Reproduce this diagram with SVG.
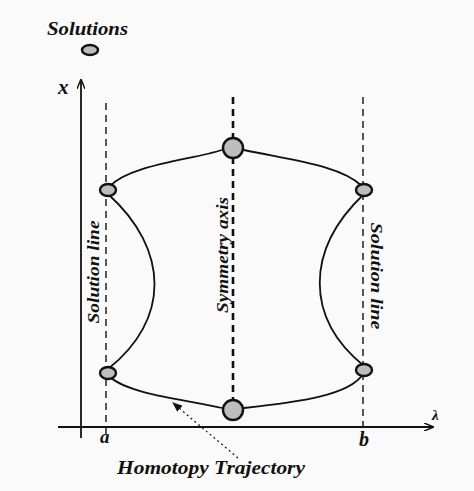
<svg xmlns="http://www.w3.org/2000/svg" width="474" height="491" viewBox="0 0 474 491">
<style>
.lbl{font-family:"Liberation Serif",serif;font-style:italic;font-weight:bold;fill:#111}
.dash{stroke:#111;stroke-width:1.4;stroke-dasharray:7 5;fill:none}
.curve{stroke:#111;stroke-width:1.8;fill:none}
.node{fill:#bdbdbd;stroke:#111;stroke-width:2.4}
.axis{stroke:#111;stroke-width:1.8;fill:none}
</style>
<defs>
<marker id="arr" markerWidth="10" markerHeight="8" refX="9" refY="4" orient="auto" markerUnits="userSpaceOnUse">
<path d="M0,0 L10,4 L0,8" fill="none" stroke="#111" stroke-width="1.4"/>
</marker>
<marker id="dot" markerWidth="10" markerHeight="8" refX="9" refY="4" orient="auto" markerUnits="userSpaceOnUse">
<path d="M0,0 L10,4 L0,8 Z" fill="#111"/>
</marker>
</defs>
<rect width="474" height="491" fill="#fafafa"/>
<g id="legend">
<text class="lbl" x="47" y="35" font-size="19" textLength="81" lengthAdjust="spacingAndGlyphs">Solutions</text>
<ellipse class="node" cx="90" cy="50" rx="8" ry="5" fill="#555"/>
</g>
<g id="axes">
<line class="axis" x1="81" y1="438" x2="81" y2="80" marker-end="url(#arr)"/>
<line class="axis" x1="58" y1="427" x2="433" y2="427" marker-end="url(#arr)"/>
<text class="lbl" x="58" y="94" font-size="21">x</text>
<text class="lbl" x="432" y="420" font-size="15" font-weight="normal">λ</text>
<text class="lbl" x="100" y="443" font-size="19">a</text>
<text class="lbl" x="359" y="446" font-size="20" font-weight="normal">b</text>
</g>
<g id="guides">
<line class="dash" x1="106" y1="103" x2="106" y2="438"/>
<line class="dash" x1="233" y1="97" x2="233" y2="420" style="stroke-width:2.6"/>
<line class="dash" x1="363" y1="97" x2="363" y2="427"/>
<text class="lbl" font-size="16" transform="translate(99,272) rotate(-90)" text-anchor="middle" textLength="103" lengthAdjust="spacingAndGlyphs">Solution line</text>
<text class="lbl" font-size="16" transform="translate(228,255) rotate(-90)" text-anchor="middle" textLength="116" lengthAdjust="spacingAndGlyphs">Symmetry axis</text>
<text class="lbl" font-size="16" transform="translate(371,276) rotate(90)" text-anchor="middle" textLength="107" lengthAdjust="spacingAndGlyphs">Solution line</text>
</g>
<g id="connectors">
<path class="curve" d="M110,186 C130,165 190,160 222,150"/>
<path class="curve" d="M244,150 C290,160 340,165 362,186"/>
<path class="curve" d="M108,194 C170,250 170,320 108,369"/>
<path class="curve" d="M364,194 C305,250 305,318 364,366"/>
<path class="curve" d="M110,377 C130,395 190,400 222,408"/>
<path class="curve" d="M244,408 C300,402 350,395 363,374"/>
<line x1="238" y1="458" x2="173" y2="403" stroke="#111" stroke-width="1.2" stroke-dasharray="2 3" marker-end="url(#dot)"/>
</g>
<g id="n-top-left"><ellipse class="node" cx="108" cy="190" rx="8" ry="6"/></g>
<g id="n-top-center"><circle class="node" cx="233" cy="148" r="10"/></g>
<g id="n-top-right"><ellipse class="node" cx="364" cy="190" rx="8" ry="6"/></g>
<g id="n-bot-left"><ellipse class="node" cx="108" cy="373" rx="8" ry="6"/></g>
<g id="n-bot-center"><circle class="node" cx="233" cy="410" r="10"/></g>
<g id="n-bot-right"><ellipse class="node" cx="364" cy="370" rx="8" ry="6"/></g>
<g id="caption">
<text class="lbl" x="117" y="474" font-size="19" textLength="188" lengthAdjust="spacingAndGlyphs">Homotopy Trajectory</text>
</g>
</svg>
